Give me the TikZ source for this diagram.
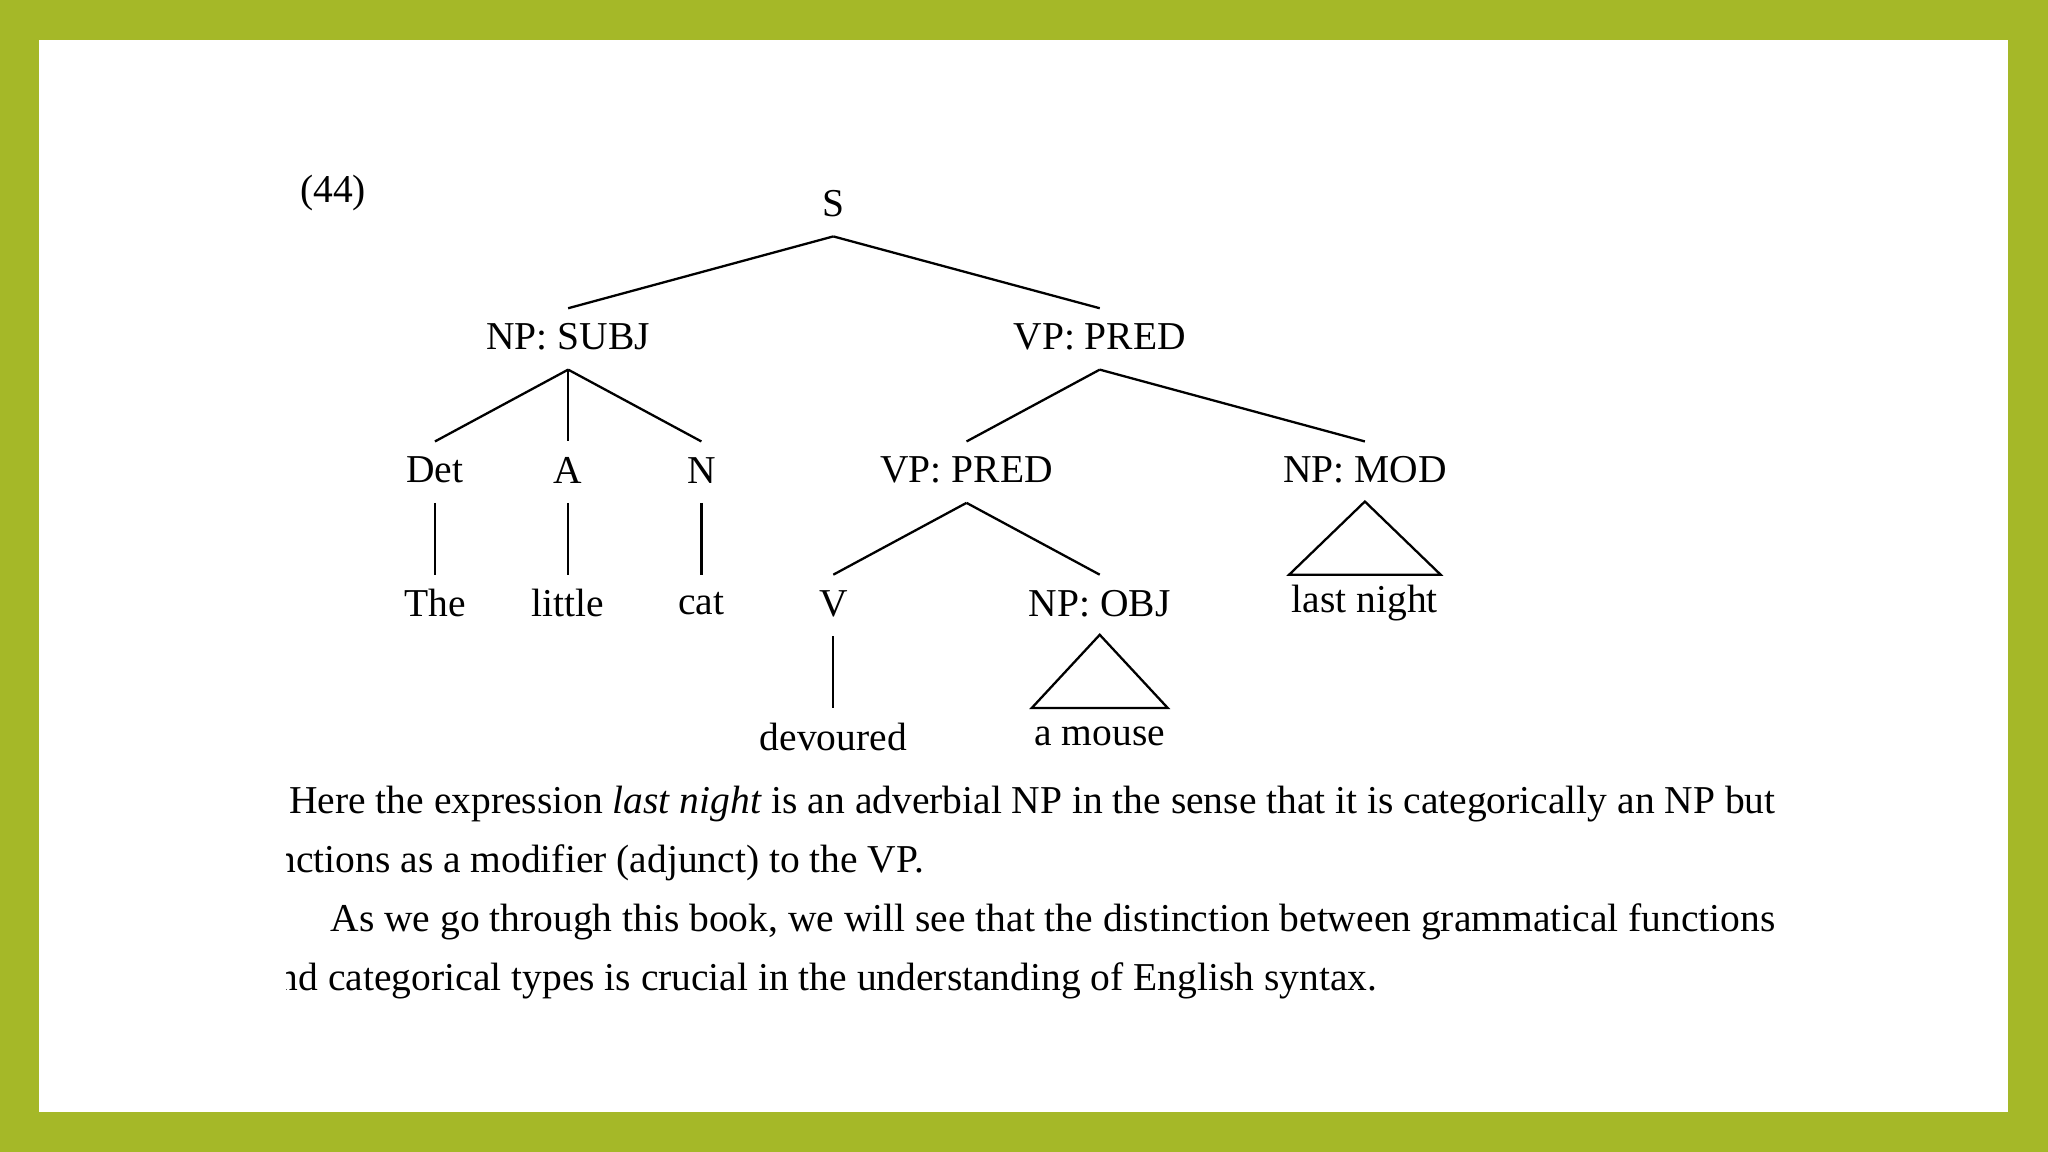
\documentclass[tikz,border=0pt]{standalone}
\usepackage{fontspec}
\setmainfont{Liberation Serif}
\usetikzlibrary{calc}
\begin{document}
\begin{tikzpicture}[x=0.01cm,y=-0.01cm,
  lab/.style={font=\fontsize{8.6}{10}\selectfont,inner sep=0pt},
  ptext/.style={font=\fontsize{8.6}{10}\selectfont,inner sep=0pt,anchor=base east},
  br/.style={line width=0.5pt}]
\fill[fill={rgb,255:red,165;green,184;blue,40}] (0,0) rectangle (1568,882);
\fill[white] (30,31) rectangle (1537,851);
\useasboundingbox (0,0) rectangle (1568,882);
\node[lab] (ex) at (255,148) {(44)};
\node[lab] (S) at (638,156) {S};
\node[lab] (np) at (435,258) {NP: SUBJ};
\node[lab] (vp) at (842,258) {VP: PRED};
\node[lab] (det) at (333,360) {Det};
\node[lab] (a) at (435,360) {A};
\node[lab] (n) at (537,360) {N};
\node[lab] (vp2) at (740,360) {VP: PRED};
\node[lab] (mod) at (1045,360) {NP: MOD};
\node[lab] (the) at (333,462) {The};
\node[lab] (little) at (435,462) {little};
\node[lab] (cat) at (537,462) {cat};
\node[lab] (v) at (638,462) {V};
\node[lab] (obj) at (842,462) {NP: OBJ};
\node[lab] (ln) at (1045,462) {last night};
\node[lab] (dev) at (638,564) {devoured};
\node[lab] (am) at (842,564) {a mouse};
\foreach \p/\c in {S/np,S/vp,np/det,np/a,np/n,vp/vp2,vp/mod,det/the,a/little,n/cat,vp2/v,vp2/obj,v/dev}{
  \draw[br] ($(\p)+(0,25)$) -- ($(\c)+(0,-22)$);
}
\draw[br] ($(mod)+(0,24)$) -- ($(ln)+(-58,-22)$) -- ($(ln)+(58,-22)$) -- cycle;
\draw[br] ($(obj)+(0,24)$) -- ($(am)+(-52,-22)$) -- ($(am)+(52,-22)$) -- cycle;
\begin{scope}
\clip (219,580) rectangle (1450,780);
\node[ptext] (p1) at (1360,623) {Here the expression \textit{last night} is an adverbial NP in the sense that it is categorically an NP but};
\node[ptext] (p2) at (708,668) {functions as a modifier (adjunct) to the VP.};
\node[ptext] (p3) at (1360,713) {As we go through this book, we will see that the distinction between grammatical functions};
\node[ptext] (p4) at (1055,758) {and categorical types is crucial in the understanding of English syntax.};
\end{scope}
\end{tikzpicture}
\end{document}
